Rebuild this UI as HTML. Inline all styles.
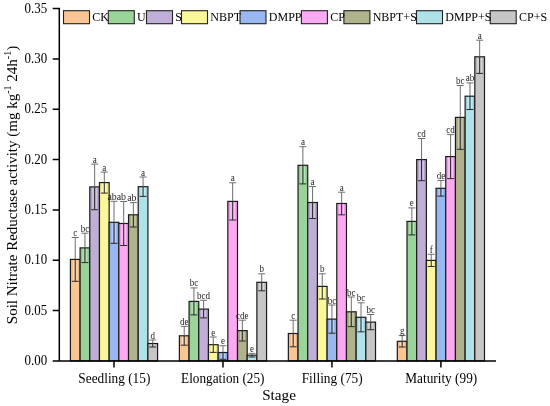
<!DOCTYPE html>
<html><head><meta charset="utf-8"><style>html,body{margin:0;padding:0;background:#fff;width:550px;height:406px;overflow:hidden}svg{display:block}</style></head><body>
<svg width="550" height="406" viewBox="0 0 550 406">
<rect width="550" height="406" fill="#fff"/>
<g stroke="#1a1a1a" stroke-width="1.2"><rect x="70.41" y="259.4" width="9.69" height="101.5" fill="#F9C593"/><rect x="80.1" y="247.9" width="9.69" height="113" fill="#9AD49A"/><rect x="89.78" y="186.9" width="9.69" height="174" fill="#BFAFD7"/><rect x="99.47" y="182.6" width="9.69" height="178.3" fill="#FAF79A"/><rect x="109.16" y="222.3" width="9.69" height="138.6" fill="#9AB8F0"/><rect x="118.84" y="223.5" width="9.69" height="137.4" fill="#FBA9F3"/><rect x="128.53" y="214.8" width="9.69" height="146.1" fill="#B0B28B"/><rect x="138.22" y="186.7" width="9.69" height="174.2" fill="#AEE1E8"/><rect x="147.9" y="343.5" width="9.69" height="17.4" fill="#C6C6C6"/><rect x="179.38" y="335.8" width="9.69" height="25.1" fill="#F9C593"/><rect x="189.07" y="301.4" width="9.69" height="59.5" fill="#9AD49A"/><rect x="198.75" y="309.1" width="9.69" height="51.8" fill="#BFAFD7"/><rect x="208.44" y="344.7" width="9.69" height="16.2" fill="#FAF79A"/><rect x="218.13" y="352.5" width="9.69" height="8.4" fill="#9AB8F0"/><rect x="227.81" y="201.4" width="9.69" height="159.5" fill="#FBA9F3"/><rect x="237.5" y="330.6" width="9.69" height="30.3" fill="#B0B28B"/><rect x="247.19" y="355.2" width="9.69" height="5.7" fill="#AEE1E8"/><rect x="256.87" y="282.3" width="9.69" height="78.6" fill="#C6C6C6"/><rect x="288.35" y="333.5" width="9.69" height="27.4" fill="#F9C593"/><rect x="298.04" y="165.3" width="9.69" height="195.6" fill="#9AD49A"/><rect x="307.72" y="202.5" width="9.69" height="158.4" fill="#BFAFD7"/><rect x="317.41" y="286.4" width="9.69" height="74.5" fill="#FAF79A"/><rect x="327.1" y="319.1" width="9.69" height="41.8" fill="#9AB8F0"/><rect x="336.78" y="203.5" width="9.69" height="157.4" fill="#FBA9F3"/><rect x="346.47" y="311.8" width="9.69" height="49.1" fill="#B0B28B"/><rect x="356.16" y="317.3" width="9.69" height="43.6" fill="#AEE1E8"/><rect x="365.84" y="322.1" width="9.69" height="38.8" fill="#C6C6C6"/><rect x="397.32" y="341.3" width="9.69" height="19.6" fill="#F9C593"/><rect x="407.01" y="221.4" width="9.69" height="139.5" fill="#9AD49A"/><rect x="416.69" y="159.6" width="9.69" height="201.3" fill="#BFAFD7"/><rect x="426.38" y="260.4" width="9.69" height="100.5" fill="#FAF79A"/><rect x="436.07" y="188.3" width="9.69" height="172.6" fill="#9AB8F0"/><rect x="445.75" y="156.6" width="9.69" height="204.3" fill="#FBA9F3"/><rect x="455.44" y="117.4" width="9.69" height="243.5" fill="#B0B28B"/><rect x="465.13" y="96.2" width="9.69" height="264.7" fill="#AEE1E8"/><rect x="474.81" y="56.8" width="9.69" height="304.1" fill="#C6C6C6"/></g>
<path fill="none" stroke="#666" stroke-width="0.95" d="M71.76 237.5H78.76M75.26 237.5V259.4M81.44 233.2H88.44M84.94 233.2V247.9M91.13 164.1H98.13M94.63 164.1V186.9M100.81 172.1H107.81M104.31 172.1V182.6M110.5 201.3H117.5M114 201.3V222.3M120.19 201.5H127.19M123.69 201.5V223.5M129.87 202.6H136.87M133.37 202.6V214.8M139.56 177H146.56M143.06 177V186.7M149.24 340H156.24M152.74 340V343.5M180.73 326.4H187.73M184.23 326.4V335.8M190.41 287.9H197.41M193.91 287.9V301.4M200.1 300.3H207.1M203.6 300.3V309.1M209.78 337H216.78M213.28 337V344.7M219.47 345.7H226.47M222.97 345.7V352.5M229.16 182.8H236.16M232.66 182.8V201.4M238.84 320.2H245.84M242.34 320.2V330.6M248.53 353.4H255.53M252.03 353.4V355.2M258.21 273.8H265.21M261.71 273.8V282.3M289.7 320.2H296.7M293.2 320.2V333.5M299.38 146.7H306.38M302.88 146.7V165.3M309.07 186.5H316.07M312.57 186.5V202.5M318.75 273.8H325.75M322.25 273.8V286.4M328.44 305H335.44M331.94 305V319.1M338.13 192.2H345.13M341.63 192.2V203.5M347.81 297H354.81M351.31 297V311.8M357.5 302.8H364.5M361 302.8V317.3M367.18 314.5H374.18M370.68 314.5V322.1M398.67 335.6H405.67M402.17 335.6V341.3M408.35 207.9H415.35M411.85 207.9V221.4M418.04 138.5H425.04M421.54 138.5V159.6M427.72 254.3H434.72M431.22 254.3V260.4M437.41 180.5H444.41M440.91 180.5V188.3M447.1 134.6H454.1M450.6 134.6V156.6M456.78 85.5H463.78M460.28 85.5V117.4M466.47 82.9H473.47M469.97 82.9V96.2M476.15 40.2H483.15M479.65 40.2V56.8"/>
<path fill="none" stroke="#fff" stroke-opacity="0.35" stroke-width="1" d="M73.56 260.1V280.7M76.96 260.1V280.7M83.24 248.6V262M86.64 248.6V262M92.93 187.6V209.1M96.33 187.6V209.1M102.61 183.3V192.5M106.01 183.3V192.5M112.3 223V242.7M115.7 223V242.7M121.99 224.2V244.9M125.39 224.2V244.9M131.67 215.5V226.4M135.07 215.5V226.4M141.36 187.4V195.8M144.76 187.4V195.8M151.04 344.2V346.4M154.44 344.2V346.4M182.53 336.5V344.6M185.93 336.5V344.6M192.21 302.1V314.3M195.61 302.1V314.3M201.9 309.8V317.3M205.3 309.8V317.3M211.58 345.4V351.8M214.98 345.4V351.8M221.27 353.2V358.7M224.67 353.2V358.7M230.96 202.1V219.4M234.36 202.1V219.4M240.64 331.3V340.4M244.04 331.3V340.4M260.01 283V290.2M263.41 283V290.2M291.5 334.2V346.2M294.9 334.2V346.2M301.18 166V183.3M304.58 166V183.3M310.87 203.2V217.9M314.27 203.2V217.9M320.55 287.1V298.4M323.95 287.1V298.4M330.24 319.8V332.6M333.64 319.8V332.6M339.93 204.2V214.2M343.33 204.2V214.2M349.61 312.5V326M353.01 312.5V326M359.3 318V331.2M362.7 318V331.2M368.98 322.8V329.1M372.38 322.8V329.1M400.47 342V346.4M403.87 342V346.4M410.15 222.1V234.3M413.55 222.1V234.3M419.84 160.3V180.1M423.24 160.3V180.1M429.52 261.1V265.9M432.92 261.1V265.9M439.21 189V195.5M442.61 189V195.5M448.9 157.3V178M452.3 157.3V178M458.58 118.1V148.7M461.98 118.1V148.7M468.27 96.9V108.9M471.67 96.9V108.9M477.95 57.5V72.8M481.35 57.5V72.8"/>
<path fill="none" stroke="#000" stroke-opacity="0.12" stroke-width="0.8" d="M71.86 260.1V280.7M78.66 260.1V280.7M81.54 248.6V262M88.34 248.6V262M91.23 187.6V209.1M98.03 187.6V209.1M100.91 183.3V192.5M107.71 183.3V192.5M110.6 223V242.7M117.4 223V242.7M120.29 224.2V244.9M127.09 224.2V244.9M129.97 215.5V226.4M136.77 215.5V226.4M139.66 187.4V195.8M146.46 187.4V195.8M149.34 344.2V346.4M156.14 344.2V346.4M180.83 336.5V344.6M187.63 336.5V344.6M190.51 302.1V314.3M197.31 302.1V314.3M200.2 309.8V317.3M207 309.8V317.3M209.88 345.4V351.8M216.68 345.4V351.8M219.57 353.2V358.7M226.37 353.2V358.7M229.26 202.1V219.4M236.06 202.1V219.4M238.94 331.3V340.4M245.74 331.3V340.4M258.31 283V290.2M265.11 283V290.2M289.8 334.2V346.2M296.6 334.2V346.2M299.48 166V183.3M306.28 166V183.3M309.17 203.2V217.9M315.97 203.2V217.9M318.85 287.1V298.4M325.65 287.1V298.4M328.54 319.8V332.6M335.34 319.8V332.6M338.23 204.2V214.2M345.03 204.2V214.2M347.91 312.5V326M354.71 312.5V326M357.6 318V331.2M364.4 318V331.2M367.28 322.8V329.1M374.08 322.8V329.1M398.77 342V346.4M405.57 342V346.4M408.45 222.1V234.3M415.25 222.1V234.3M418.14 160.3V180.1M424.94 160.3V180.1M427.82 261.1V265.9M434.62 261.1V265.9M437.51 189V195.5M444.31 189V195.5M447.2 157.3V178M454 157.3V178M456.88 118.1V148.7M463.68 118.1V148.7M466.57 96.9V108.9M473.37 96.9V108.9M476.25 57.5V72.8M483.05 57.5V72.8"/>
<path fill="none" stroke="#2a2a2a" stroke-width="1" d="M75.26 259.4V281.3M71.76 281.3H78.76M84.94 247.9V262.6M81.44 262.6H88.44M94.63 186.9V209.7M91.13 209.7H98.13M104.31 182.6V193.1M100.81 193.1H107.81M114 222.3V243.3M110.5 243.3H117.5M123.69 223.5V245.5M120.19 245.5H127.19M133.37 214.8V227M129.87 227H136.87M143.06 186.7V196.4M139.56 196.4H146.56M152.74 343.5V347M149.24 347H156.24M184.23 335.8V345.2M180.73 345.2H187.73M193.91 301.4V314.9M190.41 314.9H197.41M203.6 309.1V317.9M200.1 317.9H207.1M213.28 344.7V352.4M209.78 352.4H216.78M222.97 352.5V359.3M219.47 359.3H226.47M232.66 201.4V220M229.16 220H236.16M242.34 330.6V341M238.84 341H245.84M252.03 355.2V357M248.53 357H255.53M261.71 282.3V290.8M258.21 290.8H265.21M293.2 333.5V346.8M289.7 346.8H296.7M302.88 165.3V183.9M299.38 183.9H306.38M312.57 202.5V218.5M309.07 218.5H316.07M322.25 286.4V299M318.75 299H325.75M331.94 319.1V333.2M328.44 333.2H335.44M341.63 203.5V214.8M338.13 214.8H345.13M351.31 311.8V326.6M347.81 326.6H354.81M361 317.3V331.8M357.5 331.8H364.5M370.68 322.1V329.7M367.18 329.7H374.18M402.17 341.3V347M398.67 347H405.67M411.85 221.4V234.9M408.35 234.9H415.35M421.54 159.6V180.7M418.04 180.7H425.04M431.22 260.4V266.5M427.72 266.5H434.72M440.91 188.3V196.1M437.41 196.1H444.41M450.6 156.6V178.6M447.1 178.6H454.1M460.28 117.4V149.3M456.78 149.3H463.78M469.97 96.2V109.5M466.47 109.5H473.47M479.65 56.8V73.4M476.15 73.4H483.15"/>
<g font-family="Liberation Serif, serif" font-size="9.8" text-anchor="middle" fill="#1a1a1a"><text transform="translate(75.26 236) scale(0.92 1)">c</text><text transform="translate(84.94 231.7) scale(0.92 1)">bc</text><text transform="translate(94.63 162.6) scale(0.92 1)">a</text><text transform="translate(104.31 170.6) scale(0.92 1)">a</text><text transform="translate(112.1 199.8) scale(1.0 1)">ab</text><text transform="translate(121.39 200) scale(1.0 1)">ab</text><text transform="translate(131.77 201.1) scale(1.0 1)">ab</text><text transform="translate(143.06 175.5) scale(0.92 1)">a</text><text transform="translate(152.74 338.5) scale(0.92 1)">d</text><text transform="translate(184.23 324.9) scale(0.92 1)">de</text><text transform="translate(193.91 286.4) scale(0.92 1)">bc</text><text transform="translate(203.6 298.8) scale(0.92 1)">bcd</text><text transform="translate(213.28 335.5) scale(0.92 1)">e</text><text transform="translate(222.97 344.2) scale(0.92 1)">e</text><text transform="translate(232.66 181.3) scale(0.92 1)">a</text><text transform="translate(242.34 318.7) scale(0.92 1)">cde</text><text transform="translate(252.03 351.9) scale(0.92 1)">e</text><text transform="translate(261.71 272.3) scale(0.92 1)">b</text><text transform="translate(293.2 318.7) scale(0.92 1)">c</text><text transform="translate(302.88 145.2) scale(0.92 1)">a</text><text transform="translate(312.57 185) scale(0.92 1)">a</text><text transform="translate(322.25 272.3) scale(0.92 1)">b</text><text transform="translate(331.94 303.5) scale(0.92 1)">bc</text><text transform="translate(341.63 190.7) scale(0.92 1)">a</text><text transform="translate(351.31 295.5) scale(0.92 1)">bc</text><text transform="translate(361 301.3) scale(0.92 1)">bc</text><text transform="translate(370.68 313) scale(0.92 1)">bc</text><text transform="translate(402.17 334.1) scale(0.92 1)">g</text><text transform="translate(411.85 206.4) scale(0.92 1)">e</text><text transform="translate(421.54 137) scale(0.92 1)">cd</text><text transform="translate(431.22 252.8) scale(0.92 1)">f</text><text transform="translate(440.91 179) scale(0.92 1)">de</text><text transform="translate(450.6 133.1) scale(0.92 1)">cd</text><text transform="translate(460.28 84) scale(0.92 1)">bc</text><text transform="translate(469.97 81.4) scale(0.92 1)">ab</text><text transform="translate(479.65 38.7) scale(0.92 1)">a</text></g>
<path fill="none" stroke="#000" stroke-width="1.5" d="M59.3 7.85V360.9M52.7 360.9H496M52.7 360.9H59.3M52.7 310.57H59.3M52.7 260.24H59.3M52.7 209.91H59.3M52.7 159.59H59.3M52.7 109.26H59.3M52.7 58.93H59.3M52.7 8.6H59.3M114 360.9V367.5M222.97 360.9V367.5M331.94 360.9V367.5M440.91 360.9V367.5"/>
<g font-family="Liberation Serif, serif" font-size="14" fill="#000"><text x="24.6" y="365.1" textLength="22.6" lengthAdjust="spacingAndGlyphs">0.00</text><text x="24.6" y="314.77" textLength="22.6" lengthAdjust="spacingAndGlyphs">0.05</text><text x="24.6" y="264.44" textLength="22.6" lengthAdjust="spacingAndGlyphs">0.10</text><text x="24.6" y="214.11" textLength="22.6" lengthAdjust="spacingAndGlyphs">0.15</text><text x="24.6" y="163.79" textLength="22.6" lengthAdjust="spacingAndGlyphs">0.20</text><text x="24.6" y="113.46" textLength="22.6" lengthAdjust="spacingAndGlyphs">0.25</text><text x="24.6" y="63.13" textLength="22.6" lengthAdjust="spacingAndGlyphs">0.30</text><text x="24.6" y="12.8" textLength="22.6" lengthAdjust="spacingAndGlyphs">0.35</text></g>
<g font-family="Liberation Serif, serif" font-size="14" fill="#000"><text x="78.35" y="383.4" textLength="72" lengthAdjust="spacingAndGlyphs">Seedling (15)</text><text x="181.1" y="383.4" textLength="83.4" lengthAdjust="spacingAndGlyphs">Elongation (25)</text><text x="301.65" y="383.4" textLength="61" lengthAdjust="spacingAndGlyphs">Filling (75)</text><text x="405.3" y="383.4" textLength="71.9" lengthAdjust="spacingAndGlyphs">Maturity (99)</text></g>
<text x="279" y="400.4" font-family="Liberation Serif, serif" font-size="15.2" text-anchor="middle">Stage</text>
<text transform="translate(16.8 185) rotate(-90)" font-family="Liberation Serif, serif" font-size="15" text-anchor="middle">Soil Nitrate Reductase activity (mg kg<tspan dy="-6" font-size="10">-1</tspan><tspan dy="6"> 24h</tspan><tspan dy="-6" font-size="10">-1</tspan><tspan dy="6">)</tspan></text>
<g stroke="#222" stroke-width="1.1"><rect x="63.5" y="10.7" width="26" height="13" fill="#F9C593"/><rect x="108.3" y="10.7" width="26" height="13" fill="#9AD49A"/><rect x="146.5" y="10.7" width="26" height="13" fill="#BFAFD7"/><rect x="181.5" y="10.7" width="26" height="13" fill="#FAF79A"/><rect x="240" y="10.7" width="26" height="13" fill="#9AB8F0"/><rect x="301.4" y="10.7" width="26" height="13" fill="#FBA9F3"/><rect x="343.9" y="10.7" width="26" height="13" fill="#B0B28B"/><rect x="416.5" y="10.7" width="26" height="13" fill="#AEE1E8"/><rect x="490.2" y="10.7" width="26" height="13" fill="#C6C6C6"/></g>
<g font-family="Liberation Serif, serif" font-size="12" fill="#000"><text x="92.3" y="20.8">CK</text><text x="137.1" y="20.8">U</text><text x="175.3" y="20.8">S</text><text x="210.3" y="20.8">NBPT</text><text x="268.8" y="20.8">DMPP</text><text x="330.2" y="20.8">CP</text><text x="372.7" y="20.8">NBPT+S</text><text x="445.3" y="20.8">DMPP+S</text><text x="519" y="20.8">CP+S</text></g>
</svg>
</body></html>
